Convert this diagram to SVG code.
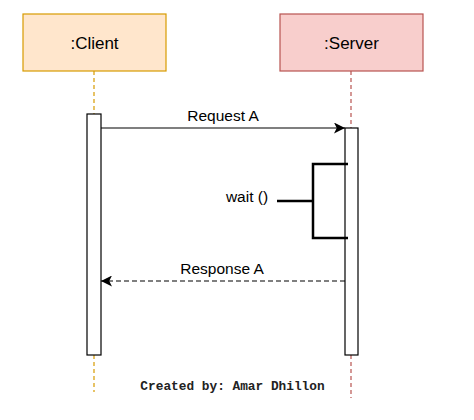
<svg xmlns="http://www.w3.org/2000/svg" width="474" height="420" viewBox="0 0 474 420">
<defs>
<marker id="arr" viewBox="0 0 10 10" refX="10" refY="5" markerWidth="11" markerHeight="11" markerUnits="userSpaceOnUse" orient="auto">
<path d="M0,0 L10,5 L0,10 L2.5,5 Z" fill="#000"/>
</marker>
</defs>
<style>
.lbl{font-family:"Liberation Sans",Arial,sans-serif;font-size:15.5px;fill:#000}
.act{fill:#fff;stroke:#000;stroke-width:1.2}
</style>
<rect width="474" height="420" fill="#fff"/>
<g id="lifelines">
<line x1="94" y1="71" x2="94" y2="114" stroke="#d79b00" stroke-dasharray="4 3" stroke-width="1.2"/>
<line x1="94" y1="355" x2="94" y2="392" stroke="#d79b00" stroke-dasharray="4 3" stroke-width="1.2"/>
<line x1="351" y1="71" x2="351" y2="128" stroke="#b85450" stroke-dasharray="4 3" stroke-width="1.2"/>
<line x1="351" y1="355" x2="351" y2="398" stroke="#b85450" stroke-dasharray="4 3" stroke-width="1.2"/>
</g>
<g id="client">
<rect x="23" y="14" width="143" height="57" fill="#ffe6cc" stroke="#d79b00" stroke-width="1.2"/>
<text class="lbl" x="94.5" y="49" text-anchor="middle" style="font-size:17px">:Client</text>
</g>
<g id="server">
<rect x="280" y="14" width="143" height="57" fill="#f8cecc" stroke="#b85450" stroke-width="1.2"/>
<text class="lbl" x="351.5" y="49" text-anchor="middle" style="font-size:17px">:Server</text>
</g>
<g id="client-activation">
<rect class="act" x="87" y="114" width="14" height="241"/>
</g>
<g id="server-activation">
<rect class="act" x="345" y="128" width="13" height="227"/>
</g>
<g id="connectors">
<line x1="101" y1="128" x2="345" y2="128" stroke="#000" stroke-width="1.2" marker-end="url(#arr)"/>
<line x1="345" y1="281" x2="101" y2="281" stroke="#000" stroke-width="1.2" stroke-dasharray="5 3" marker-end="url(#arr)"/>
<path d="M348,164 H313 V238 H348 M313,201 H277" fill="none" stroke="#000" stroke-width="2.5"/>
</g>
<text class="lbl" x="223" y="121" text-anchor="middle">Request A</text>
<text class="lbl" x="222" y="274" text-anchor="middle">Response A</text>
<text class="lbl" x="247" y="202" text-anchor="middle">wait ()</text>
<text x="232.5" y="390" text-anchor="middle" font-family="'Liberation Mono','Courier New',monospace" font-weight="bold" font-size="12.8" fill="#222">Created by: Amar Dhillon</text>
</svg>
